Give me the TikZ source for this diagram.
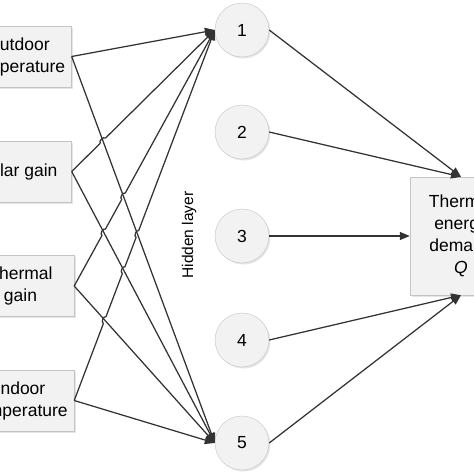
\documentclass[tikz,border=0pt]{standalone}
\usepackage{fontspec}
\setmainfont{Liberation Sans}
\usetikzlibrary{arrows.meta,shadows,intersections,calc}
\definecolor{linec}{HTML}{333333}
\definecolor{boxfill}{HTML}{F2F2F2}
\definecolor{boxdraw}{HTML}{C4C4C4}
\begin{document}
\begin{tikzpicture}[x=1pt,y=-1pt,
  inbox/.style={draw=boxdraw, fill=boxfill, minimum width=107pt, minimum height=61pt,
    align=center, inner sep=0pt, font=\fontsize{17.5}{22}\selectfont,
    drop shadow={opacity=0.2, shadow xshift=1.5pt, shadow yshift=-1.5pt}},
  neuron/.style={circle, draw=boxdraw, fill=boxfill, minimum size=54pt, inner sep=0pt,
    font=\fontsize{17.5}{20}\selectfont,
    drop shadow={opacity=0.2, shadow xshift=1.5pt, shadow yshift=-1.5pt}},
  wire/.style={draw=linec, line width=1.25pt},
  link/.style={wire, -{Triangle[length=10pt,width=8pt]}},
  hop/.style={wire}
]
\useasboundingbox (0,0) rectangle (474,474);
\clip (0,0) rectangle (474,474);
\fill[white] (0,0) rectangle (474,474);

% input boxes
\node[inbox] (b1) at (18,56.5) {Outdoor\\temperature};
\node[inbox] (b2) at (18,171.5) {Solar gain};
\node[inbox] (b3) at (20.5,286) {Thermal\\gain};
\node[inbox] (b4) at (20.5,400.5) {Indoor\\temperature};

% hidden neurons
\node[neuron] (c1) at (242,30) {1};
\node[neuron] (c2) at (242,132) {2};
\node[neuron] (c3) at (242,236) {3};
\node[neuron] (c4) at (242,340) {4};
\node[neuron] (c5) at (242,443) {5};

\node[rotate=90, font=\fontsize{15.5}{18}\selectfont] (hl) at (189,235) {Hidden layer};

% output
\node[inbox, minimum width=102pt, minimum height=118pt] (out) at (461,236) {Thermal\\energy\\demand\\\textit{Q}};

% descending paths (to neuron 5)
\path[name path=d1] (b1.east) -- (c5.west);
\path[name path=d2] (b2.east) -- (c5.west);
\path[name path=d3] (b3.east) -- (c5.west);

% ascending connectors (to neuron 1)
\draw[link, name path=a1] (b1.east) -- (c1.west);
\draw[link, name path=a2] (b2.east) -- (c1.west);
\draw[link, name path=a3] (b3.east) -- (c1.west);
\draw[link, name path=a4] (b4.east) -- (c1.west);

% crossings
\path[name intersections={of=a2 and d1, by={x21}}];
\path[name intersections={of=a3 and d1, by={x31}}];
\path[name intersections={of=a4 and d1, by={x41}}];
\path[name intersections={of=a3 and d2, by={x32}}];
\path[name intersections={of=a4 and d2, by={x42}}];
\path[name intersections={of=a4 and d3, by={x43}}];
\foreach \p in {x21,x31,x41,x32,x42,x43}
  \fill[white] (\p) circle (3.6pt);

% descending connectors
\draw[link] (b1.east) -- (c5.west);
\draw[link] (b2.east) -- (c5.west);
\draw[link] (b3.east) -- (c5.west);
\draw[link] (b4.east) -- (c5.west);

% line jumps on the ascending connectors
\draw[hop] ($(x21)!3.6pt!(b2.east)$) to[bend left=90] ($(x21)!3.6pt!(c1.west)$);
\draw[hop] ($(x31)!3.6pt!(b3.east)$) to[bend left=90] ($(x31)!3.6pt!(c1.west)$);
\draw[hop] ($(x41)!3.6pt!(b4.east)$) to[bend left=90] ($(x41)!3.6pt!(c1.west)$);
\draw[hop] ($(x32)!3.6pt!(b3.east)$) to[bend left=90] ($(x32)!3.6pt!(c1.west)$);
\draw[hop] ($(x42)!3.6pt!(b4.east)$) to[bend left=90] ($(x42)!3.6pt!(c1.west)$);
\draw[hop] ($(x43)!3.6pt!(b4.east)$) to[bend left=90] ($(x43)!3.6pt!(c1.west)$);

% hidden to output
\draw[link] (c1.east) -- (out.north);
\draw[link] (c2.east) -- (out.north);
\draw[link] (c3.east) -- (out.west);
\draw[link] (c4.east) -- (out.south);
\draw[link] (c5.east) -- (out.south);
\end{tikzpicture}
\end{document}
